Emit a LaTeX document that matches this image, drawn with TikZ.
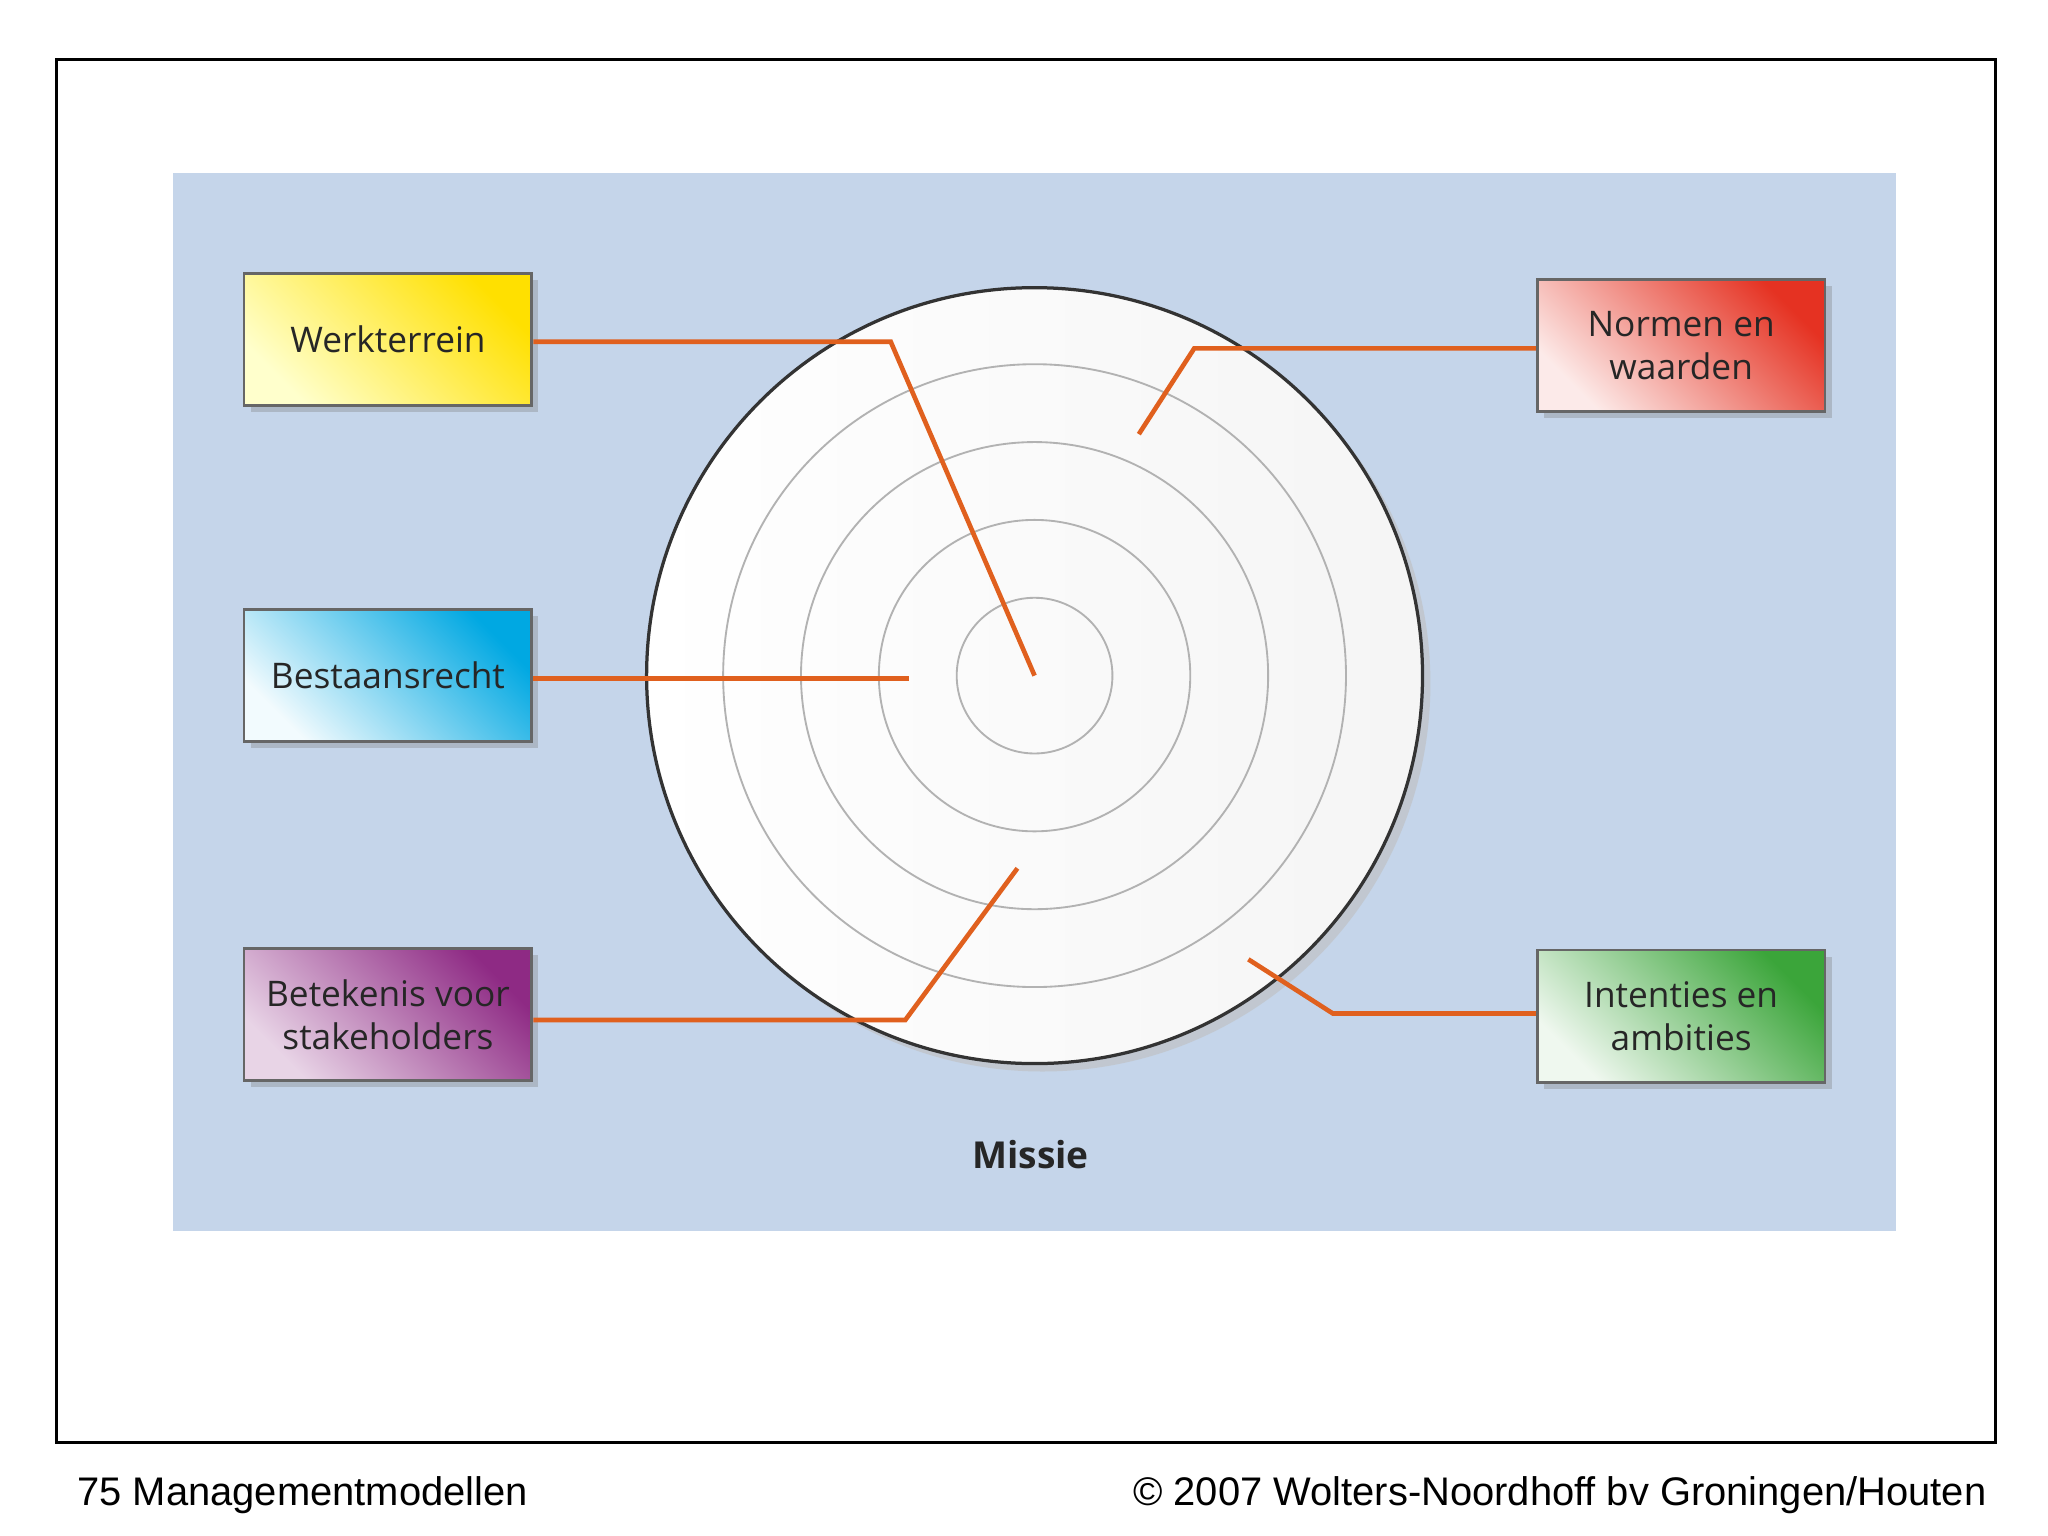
\documentclass[tikz,border=0pt]{standalone}
\usepackage{fontspec}
\setmainfont{Open Sans}
\newfontfamily\footfont{Liberation Sans}
\usetikzlibrary{shadows}
\definecolor{bgblue}{HTML}{C5D5EA}
\definecolor{lineor}{HTML}{E0601E}
\definecolor{cyd}{HTML}{00A8E2}
\definecolor{pud}{HTML}{8E2A84}
\definecolor{grd}{HTML}{3BA53A}
\definecolor{red}{HTML}{E53222}
\definecolor{yed}{HTML}{FFE000}
\begin{document}
\begin{tikzpicture}[x=0.01cm,y=-0.01cm,
  box/.style={draw=black!60,line width=0.6pt,minimum width=2.18cm,minimum height=1cm,inner sep=0pt,align=center,font=\fontsize{7.6}{9.2}\selectfont,text=black!85,drop shadow={opacity=0.35,shadow xshift=0.05cm,shadow yshift=-0.05cm}},
  conn/.style={draw=lineor,line width=1pt},
  ring/.style={draw=black!30,line width=0.4pt}]
\useasboundingbox (0,0) rectangle (1552,1164);
\fill[white] (0,0) rectangle (1552,1164);
\draw[line width=0.6pt] (43,45) rectangle (1512,1093);
\fill[bgblue] (131,131) rectangle (1437,933);
% circle
\fill[black!25,opacity=0.6] (790,518) circle (294);
\shade[left color=white,right color=black!4,draw=black!80,line width=0.7pt] (784,512) circle (294);
\foreach \r in {236,177,118,59} \draw[ring] (784,512) circle (\r);
% boxes
\node[box,top color=yellow!20!white,bottom color=yed,shading angle=135] (w) at (294,257) {Werkterrein};
\node[box,top color=cyd!5,bottom color=cyd,shading angle=135] (b) at (294,512) {Bestaansrecht};
\node[box,top color=pud!20,bottom color=pud,shading angle=135] (s) at (294,769) {Betekenis voor\\stakeholders};
\node[box,top color=red!10,bottom color=red,shading angle=135] (n) at (1274,262) {Normen en\\waarden};
\node[box,top color=grd!8,bottom color=grd,shading angle=135] (i) at (1274,770) {Intenties en\\ambities};
% free ends
\coordinate (cw) at (784,512);
\coordinate (cb) at (689,514);
\coordinate (cs) at (771,658);
\coordinate (cn) at (863,329);
\coordinate (ci) at (946,727);
\draw[conn] (w.east |- 0,259) -- (675,259) -- (cw);
\draw[conn] (b.east |- cb) -- (cb);
\draw[conn] (s.east |- 0,773) -- (686,773) -- (cs);
\draw[conn] (n.west |- 0,264) -- (905,264) -- (cn);
\draw[conn] (i.west |- 0,768) -- (1010,768) -- (ci);
\node[font=\fontsize{8}{9}\selectfont\bfseries,text=black!85] (m) at (781,875) {Missie};
\node[font=\footfont\fontsize{8.6}{10}\selectfont,anchor=west,inner sep=0pt] (f1) at (58,1133) {75 Managementmodellen};
\node[font=\footfont\fontsize{8.6}{10}\selectfont,anchor=east,inner sep=0pt] (f2) at (1506,1133) {© 2007 Wolters-Noordhoff bv Groningen/Houten};
\end{tikzpicture}
\end{document}
